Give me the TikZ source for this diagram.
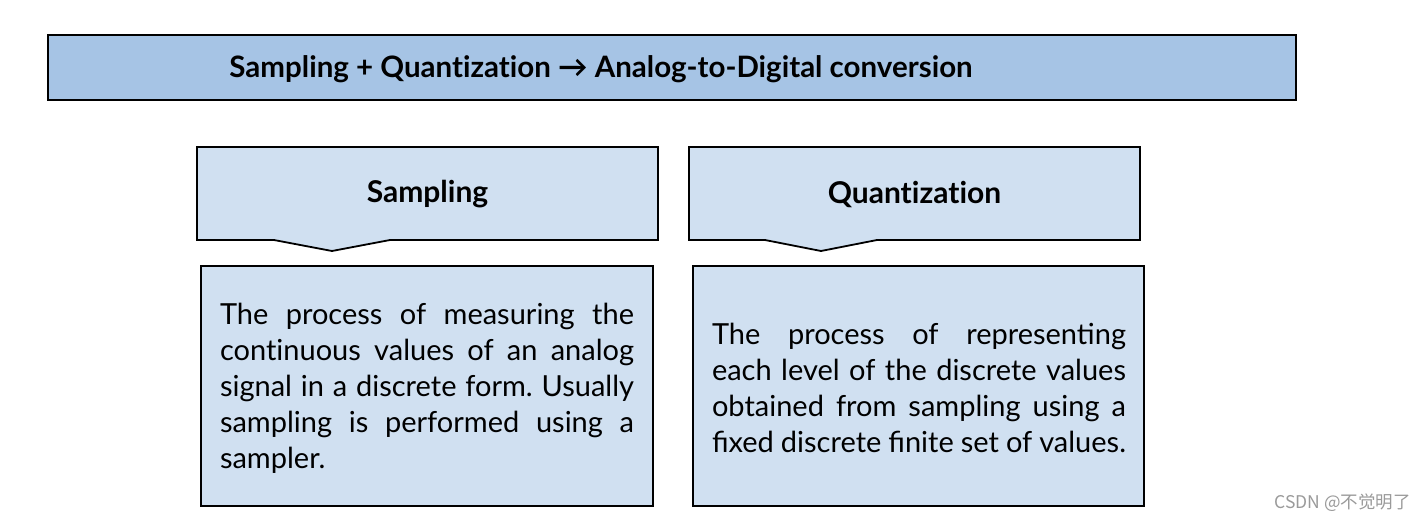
\documentclass[tikz,border=0pt]{standalone}
\usepackage{fontspec}
\setmainfont{Lato}
\newfontfamily\cjk{Noto Sans CJK SC}
\definecolor{headfill}{HTML}{A6C4E5}
\definecolor{lightfill}{HTML}{D0E0F1}
\definecolor{wmgray}{HTML}{9A9A9A}
\frenchspacing
\newcommand{\Quantz}{Quant\kern0pt izat\kern0pt ion}
\begin{document}
\begin{tikzpicture}[x=1pt,y=-1pt,
  frame/.style={draw=black,line width=1.8pt,line join=miter},
  titletext/.style={font=\fontsize{30}{34}\selectfont\bfseries,inner sep=0pt},
  bodybox/.style={frame,fill=lightfill,minimum width=452pt,minimum height=240pt,
    inner sep=0pt},
  bodytext/.style={text width=414pt,align=justify,inner sep=0pt,
    font=\fontsize{29}{36}\selectfont}]
\useasboundingbox (0,0) rectangle (1424,522);
\fill[white] (0,0) rectangle (1424,522);
% header
\node[frame,fill=headfill,minimum width=1248pt,minimum height=65pt,inner sep=0pt,anchor=north west] (head) at (47,34) {};
\node[font=\fontsize{29.5}{34}\selectfont\bfseries,inner sep=0pt] (headtext) at (601,69)
  {Sampling + \Quantz{} → Analog-to-Digital conversion};
% callout 1
\draw[frame,fill=lightfill] (197,147) -- (658,147) -- (658,240) -- (390,240) -- (332,251) -- (274,240) -- (197,240) -- cycle;
\node[titletext] (samp) at (427.5,194) {Sampling};
% callout 2
\draw[frame,fill=lightfill] (689,147) -- (1140,147) -- (1140,240) -- (877,240) -- (821,251) -- (765,240) -- (689,240) -- cycle;
\node[titletext] (quant) at (914.5,194) {\Quantz};
% body boxes
\node[bodybox,minimum width=452pt] (sbox) at (427,386) {};
\node[bodytext] (stext) at (427,388) {The process of measuring the\linebreak cont\kern0pt inuous values of an analog\linebreak signal in a discrete form. Usually\linebreak sampling is performed using a\linebreak sampler.};
\node[bodybox,minimum width=451pt] (qbox) at (918.5,386) {};
\node[bodytext] (qtext) at (919,388) {The process of representing\linebreak each level of the discrete values\linebreak obtained from sampling using a\linebreak fixed discrete finite set of values.};
% watermark
\node[font=\cjk\fontsize{17.5}{20}\selectfont,text=wmgray,inner sep=0pt,anchor=east] (wm) at (1411,503) {CSDN @不觉明了};
\end{tikzpicture}
\end{document}
